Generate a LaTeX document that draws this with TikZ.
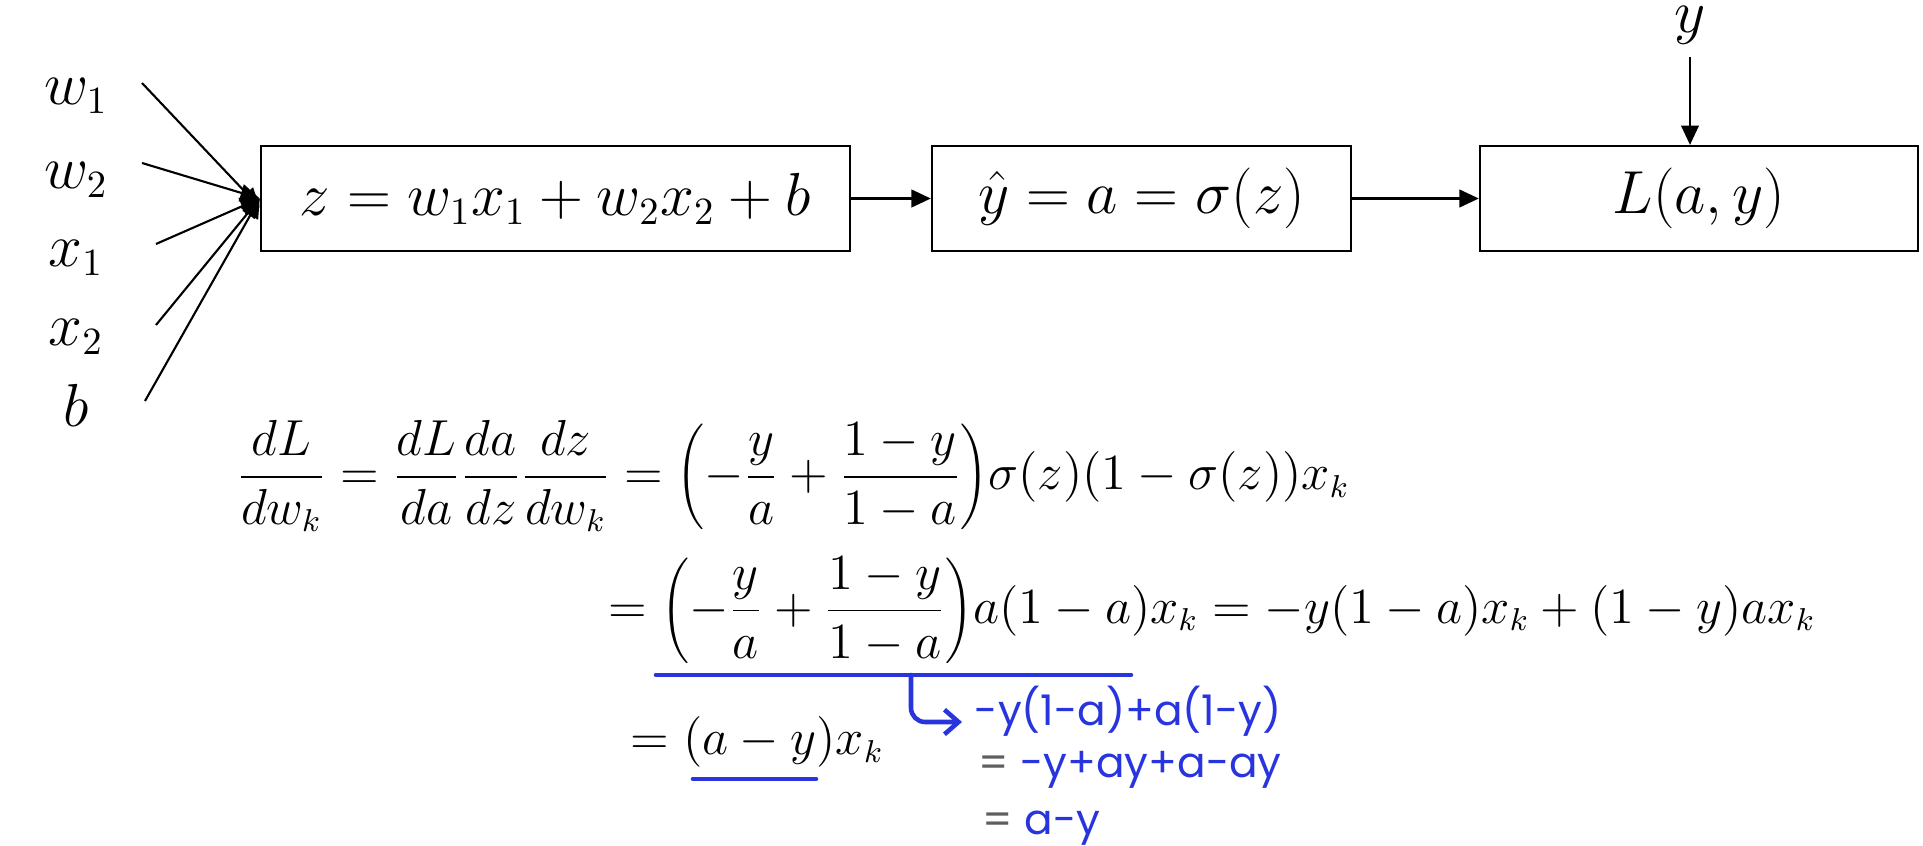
\documentclass[tikz,border=0pt]{standalone}
\usepackage{fontspec}
\newfontfamily\handfont{Poppins}
\usetikzlibrary{arrows.meta}
\definecolor{penblue}{RGB}{40,52,222}
\definecolor{pengrey}{RGB}{95,95,95}

\begin{document}
\begin{tikzpicture}[x=0.01cm, y=-0.01cm, line width=0.6pt,
        >={Triangle[length=5.5pt,width=5pt]},
        every node/.style={font=\fontsize{16}{19}\selectfont},
        block/.style={draw, minimum height=1.05cm, inner sep=0pt},
        eqn/.style={anchor=west, font=\fontsize{13.5}{16}\selectfont},
        pen/.style={draw=penblue, line width=1.3pt, line cap=round},
        hand/.style={anchor=west, text=penblue, font=\handfont\fontsize{12}{14}\selectfont}]
            \useasboundingbox (0,0) rectangle (1923,846);

            % forward pass
            \node[block, minimum width=5.89cm] (zbox) at (555.5,198.5) {$z = w_1x_1 + w_2x_2 + b$};
            \node[block, minimum width=4.19cm] (abox) at (1141.5,198.5) {$\hat{y} = a = \sigma(z)$};
            \node[block, minimum width=4.38cm] (lbox) at (1699,198.5) {$L(a,y)$};
            \path [->] (zbox) edge (abox);
            \path [->] (abox) edge (lbox);

            \node (y) at (1690,25) {$y$};
            \path [->] (y) edge (lbox.north -| y);

            % inputs
            \node (w1) at (76,96) {$w_1$};
            \node (w2) at (76,180) {$w_2$};
            \node (x1) at (76,258) {$x_1$};
            \node (x2) at (76,337) {$x_2$};
            \node (b) at (76,405) {$b$};
            \coordinate (w1s) at (142,83);
            \coordinate (w2s) at (142,163);
            \coordinate (x1s) at (156,244);
            \coordinate (x2s) at (156,325);
            \coordinate (bs) at (145,401);
            \path [->] (w1s) edge ([yshift=-0.09cm]zbox.west);
            \path [->] (w2s) edge (zbox.west);
            \path [->] (x1s) edge (zbox.west);
            \path [->] (x2s) edge (zbox.west);
            \path [->] (bs) edge (zbox.west);

            % derivative
            \node[eqn] (dline1) at (224,476) {$\displaystyle \frac{dL}{dw_k} = \frac{dL}{da}\frac{da}{dz}\frac{dz}{dw_k} = \Biggl(-\frac{y}{a} + \frac{1-y}{1-a}\Biggr)\sigma(z)(1-\sigma(z))x_k$};
            \node[eqn] (dline2) at (596,610) {$\displaystyle = \Biggl(-\frac{y}{a} + \frac{1-y}{1-a}\Biggr)a(1-a)x_k = -y(1-a)x_k + (1-y)ax_k$};
            \node[eqn] (dline3) at (618,742) {$= (a-y)x_k$};

            % notes
            \draw[pen] (656,675) -- (1131,675);
            \draw[pen] (693,779) -- (816,779);
            \coordinate (hook) at (911,675);
            \node[hand] (hw1) at (962,711) {-y(1-a)+a(1-y)};
            \node[hand] (hw2) at (966,770) {{\color{pengrey}=} -y+ay+a-ay};
            \node[hand] (hw3) at (970,828) {{\color{pengrey}=} a-y};
            \draw[pen, rounded corners=4pt, -{Straight Barb[length=4pt,width=7pt]}] (hook) |- ([yshift=-0.11cm]hw1.west);
\end{tikzpicture}
\end{document}
